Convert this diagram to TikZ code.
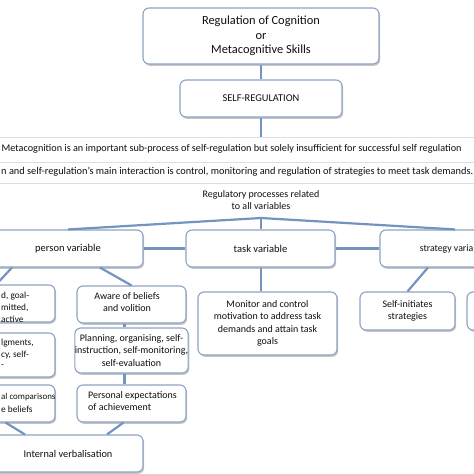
\documentclass[tikz,border=0pt]{standalone}
\usepackage{fontspec}
\setmainfont{Carlito}
\usetikzlibrary{shadows,calc}
\definecolor{bordc}{RGB}{140,164,196}
\definecolor{linec}{RGB}{115,148,190}
\definecolor{faint}{RGB}{215,224,235}
\definecolor{txtc}{RGB}{15,15,15}
\tikzset{
  box/.style={draw=bordc, line width=1.1pt, rounded corners=6pt, fill=white,
    drop shadow={shadow xshift=1.2pt, shadow yshift=-1.8pt, opacity=0.45, fill=gray},
    inner sep=0pt, align=center, text=txtc, font=\fontsize{10}{12.3}\selectfont},
  conn/.style={draw=linec, line width=2.2pt},
  txt/.style={font=\fontsize{10}{12.3}\selectfont, inner sep=0pt, align=center, text=txtc},
  cliptxt/.style={txt, font=\fontsize{9.3}{11.5}\selectfont, anchor=west},
  bigtxt/.style={font=\fontsize{12.4}{14.5}\selectfont},
  vartxt/.style={font=\fontsize{10.5}{12.5}\selectfont},
}
\begin{document}
\begin{tikzpicture}[x=1pt,y=-1pt]
\useasboundingbox (0,0) rectangle (474,474);
\fill[white] (0,0) rectangle (474,474);

% wide faint boxes
\draw[faint, line width=0.8pt] (-20,137) rectangle (494,162);
\draw[faint, line width=0.8pt] (-20,162) rectangle (494,183);
\node[txt, font=\fontsize{10.2}{12}\selectfont, anchor=west] (l1) at (1.5,148.5) {Metacognition is an important sub-process of self-regulation but solely insufficient for successful self regulation};
\node[txt, font=\fontsize{10.35}{12}\selectfont, anchor=east] (l2) at (473.5,171.5) {n and self-regulation's main interaction is control, monitoring and regulation of strategies to meet task demands.};
\coordinate (w1) at (261,137);

% top boxes
\node[box, bigtxt, minimum width=236pt, minimum height=56pt] (top) at (261,36) {Regulation of Cognition\\or\\Metacognitive Skills};
\node[box, font=\fontsize{10.4}{12}\selectfont, minimum width=162pt, minimum height=37pt] (selfreg) at (261,98.5) {SELF-REGULATION};

\node[txt] (reg) at (261,200) {Regulatory processes related\\to all variables};
\coordinate (junc) at (261,218);

% variable row
\node[box, vartxt, minimum width=150pt, minimum height=37pt] (person) at (68,248.5) {person variable};
\node[box, vartxt, minimum width=149pt, minimum height=37pt] (task) at (260.5,248.5) {task variable};
\node[box, minimum width=150pt, minimum height=37pt] (strategy) at (455,248.5) {};
\node[txt, font=\fontsize{9.8}{12}\selectfont, anchor=east] (stxt) at (473.5,249) {strategy varia};

% left clipped column
\node[box, minimum width=115pt, minimum height=37pt] (L2) at (-2.5,303.5) {};
\node[cliptxt] (L2a) at (1,296.5) {d, goal-};
\node[cliptxt] (L2b) at (1,308) {mitted,};
\node[cliptxt] (L2c) at (1,319) {active};

\node[box, minimum width=115pt, minimum height=44pt] (L3) at (-2.5,355) {};
\node[cliptxt] (L3a) at (1,343.5) {lgments,};
\node[cliptxt] (L3b) at (1,355) {cy, self-};
\node[cliptxt] (L3c) at (1,366) {-};

\node[box, minimum width=115pt, minimum height=37pt] (L4) at (-2.5,403.5) {};
\node[cliptxt, font=\fontsize{8.9}{11}\selectfont] (L4a) at (1,397) {al comparisons};
\node[cliptxt] (L4b) at (1,409.5) {e beliefs};

\node[box, font=\fontsize{10.3}{12}\selectfont, minimum width=150pt, minimum height=37pt] (internal) at (68,453.5) {Internal verbalisation};

% middle column
\node[box, minimum width=109pt, minimum height=37pt] (aware) at (131.5,304.5) {};
\node[txt] (awaret) at (127,302) {Aware of beliefs\\and volition};
\node[box, minimum width=109pt, minimum height=45pt] (planning) at (131.5,350.5) {Planning, organising, self-\\instruction, self-monitoring,\\self-evaluation};
\node[box, minimum width=109pt, minimum height=37pt] (personal) at (131.5,403.5) {};
\node[txt, align=left, anchor=west] (perst) at (88,401) {Personal expectations\\of achievement};

% task column
\node[box, minimum width=139pt, minimum height=63pt] (monitor) at (267.5,323.5) {Monitor and control\\motivation to address task\\demands and attain task\\goals};

% strategy column
\node[box, minimum width=95pt, minimum height=38pt] (selfinit) at (407.5,311) {Self-initiates\\strategies};
\node[box, minimum width=93pt, minimum height=38pt] (rbox) at (513.5,311) {};

% connectors
\draw[conn] (top.south) -- (selfreg.north);
\draw[conn] (selfreg.south) -- (w1);
\draw[conn] (junc) -- (person.north);
\draw[conn] (junc) -- (strategy.north);
\draw[conn] (junc) -- ([xshift=0.5pt]task.north);
\draw[conn] (person.east) -- (task.west);
\draw[conn] (task.east) -- (strategy.west);
\draw[conn] ([xshift=32pt]person.south) -- (aware.north);
\draw[conn] ([xshift=-56pt]person.south) -- ([xshift=-70pt,yshift=-15pt]person.south);
\draw[conn] ([xshift=-7pt]aware.south) -- ([xshift=-7pt]planning.north);
\draw[conn] ([xshift=-7pt]planning.south) -- ([xshift=-7pt]personal.north);
\draw[conn] ([xshift=-8pt]personal.south) -- ([xshift=39pt]internal.north);
\draw[conn] ([xshift=8pt]L4.south) -- ([xshift=-43pt]internal.north);
\draw[conn] ([xshift=0.5pt]task.south) -- ([xshift=-6.5pt]monitor.north);
\draw[conn] ([xshift=-27pt]strategy.south) -- (selfinit.north);
\end{tikzpicture}
\end{document}
